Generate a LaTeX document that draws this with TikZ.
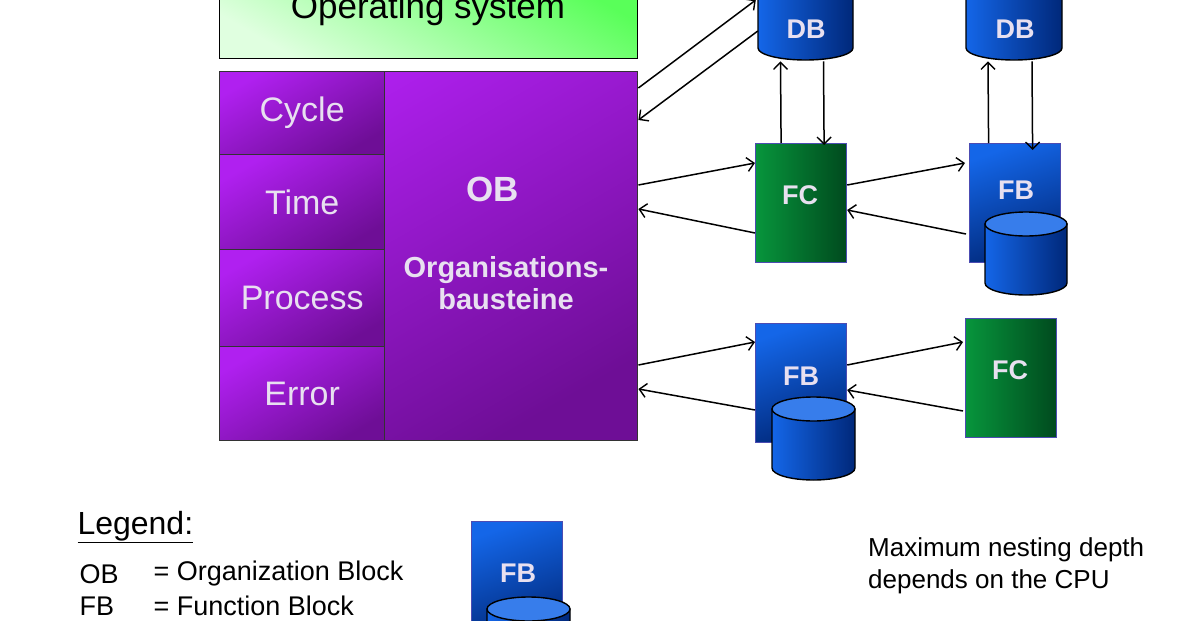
\documentclass[tikz,border=0pt]{standalone}
\usepackage{fontspec}
\setmainfont{Liberation Sans}
\usetikzlibrary{arrows.meta}
\definecolor{pl}{HTML}{B020F0}\definecolor{pd}{HTML}{6E0E96}
\definecolor{bl}{HTML}{1466E8}\definecolor{bd}{HTML}{00287A}
\definecolor{gl}{HTML}{07953C}\definecolor{gd}{HTML}{004A1E}
\definecolor{txt}{HTML}{E8E0F0}
\newcommand{\mycyl}[5]{% name, cx, top, bottom, width
  \node[inner sep=0,minimum width=#5,minimum height=#4-#3+12,anchor=north] (#1) at (#2,#3-12) {};
  \shade[left color=bl,right color=bd,draw=black,line width=1.4pt]
    (#2-#5/2,#3) -- (#2-#5/2,#4-12) arc[start angle=180,end angle=0,x radius=#5/2,y radius=12] -- (#2+#5/2,#3) -- cycle;
  \draw[fill=bl!85!white,line width=1.4pt] (#2,#3) ellipse[x radius=#5/2,y radius=12];
}
\begin{document}
\begin{tikzpicture}[x=1pt,y=-1pt,
 purp/.style={draw=black!80,line width=1.4pt,inner sep=0,anchor=north west,left color=pl,right color=pd,shading angle=30,text=txt,font=\fontsize{34}{36}\selectfont},
 blu/.style={draw=blue!40!gray,line width=1.2pt,inner sep=0,anchor=north west,left color=bl,right color=bd,shading angle=20},
 grn/.style={blu,left color=gl,right color=gd},
 lbl/.style={text=txt,font=\bfseries\fontsize{27}{29}\selectfont},
 ar/.style={-{Straight Barb[length=7,width=14,line width=1.4pt]},line width=1.5pt}]
\useasboundingbox (0,0) rectangle (1184,621);
\clip (0,0) rectangle (1184,621);
\fill[white] (0,0) rectangle (1184,621);
\node[draw=black,line width=1.4pt,anchor=north west,minimum width=418,minimum height=80,inner sep=0,left color=green!65!white,right color=green!12!white,shading angle=-30] (os) at (219,-22) {};
\node[font=\fontsize{35}{37}\selectfont] (ost) at (428,9) {Operating system};
\node[purp,minimum width=418,minimum height=369] (ob) at (219,71) {};
\node[purp,minimum width=165,minimum height=83] (c1) at (219,71) {Cycle};
\node[purp,minimum width=165,minimum height=95] (c2) at (219,154) {Time};
\node[purp,minimum width=165,minimum height=97] (c3) at (219,249) {Process};
\node[purp,minimum width=165,minimum height=94] (c4) at (219,346) {Error};
\node[text=txt,font=\bfseries\fontsize{35}{37}\selectfont] (obt) at (493,189) {OB};
\node[text=txt,font=\bfseries\fontsize{29}{32}\selectfont,align=center] (obn) at (506,283) {Organisations-\\bausteine};
% DBs
\mycyl{db1}{805.5}{-40}{60}{95}
\node[lbl] at (806,29) {DB};
\mycyl{db2}{1014}{-40}{60}{96}
\node[lbl] at (1015,29) {DB};
% blocks
\node[grn,minimum width=91,minimum height=119] (fc1) at (755,143) {};
\node[lbl] at (800,195) {FC};
\node[blu,minimum width=91,minimum height=119] (fb1) at (969,143) {};
\node[lbl] at (1016,190) {FB};
\mycyl{fb1c}{1026}{224}{295}{82}
\node[blu,minimum width=91,minimum height=119] (fb2) at (755,323) {};
\node[lbl] at (801,376) {FB};
\mycyl{fb2c}{813.5}{409}{480}{83}
\node[grn,minimum width=91,minimum height=119] (fc2) at (965,318) {};
\node[lbl] at (1010,370) {FC};
% legend block
\node[blu,minimum width=91,minimum height=119] (fbl) at (471,521) {};
\node[lbl] at (518,573) {FB};
\mycyl{fblc}{528.5}{609}{680}{83}
% arrows
\draw[ar] ([yshift=-17]ob.north east) -- ([xshift=-2,yshift=-52]db1.north west);
\draw[ar] ([yshift=-83]db1.north west) -- ([yshift=-49]ob.north east);
\draw[ar] ([xshift=-20]fc1.north) -- ([xshift=-25,yshift=-1]db1.south);
\draw[ar] ([xshift=18,yshift=-1]db1.south) -- ([xshift=23,yshift=-2]fc1.north);
\draw[ar] ([xshift=-26.5]fb1.north) -- ([xshift=-26,yshift=-1]db2.south);
\draw[ar] ([xshift=18,yshift=-1]db2.south) -- ([xshift=17.5,yshift=-7]fb1.north);
\draw[ar] ([yshift=-114]ob.north east) -- ([yshift=-20]fc1.north west);
\draw[ar] ([yshift=-90]fc1.north west) -- ([yshift=-138]ob.north east);
\draw[ar] ([yshift=-42]fc1.north east) -- ([xshift=-4,yshift=-20]fb1.north west);
\draw[ar] ([xshift=-3,yshift=-91]fb1.north west) -- ([yshift=-67]fc1.north east);
\draw[ar] ([yshift=-294]ob.north east) -- ([yshift=-19]fb2.north west);
\draw[ar] ([yshift=-87]fb2.north west) -- ([yshift=-318]ob.north east);
\draw[ar] ([yshift=-42]fb2.north east) -- ([xshift=-2,yshift=-24]fc2.north west);
\draw[ar] ([xshift=-2,yshift=-93]fc2.north west) -- ([yshift=-67]fb2.north east);
% legend
\node[anchor=west,font=\fontsize{32}{34}\selectfont] (lg) at (74,527) {\underline{Legend:}};
\node[anchor=west,font=\fontsize{27}{29}\selectfont] (l1) at (76,574) {OB};
\node[anchor=west,font=\fontsize{27}{29}\selectfont] (l1b) at (150,574) {= Organization Block};
\node[anchor=west,font=\fontsize{27}{29}\selectfont] (l2) at (76,606) {FB};
\node[anchor=west,font=\fontsize{27}{29}\selectfont] (l2b) at (150,606) {= Function Block};
\node[anchor=north west,align=left,font=\fontsize{26}{32}\selectfont,inner sep=0] (mx) at (868,537) {Maximum nesting depth\\depends on the CPU};
\end{tikzpicture}
\end{document}
